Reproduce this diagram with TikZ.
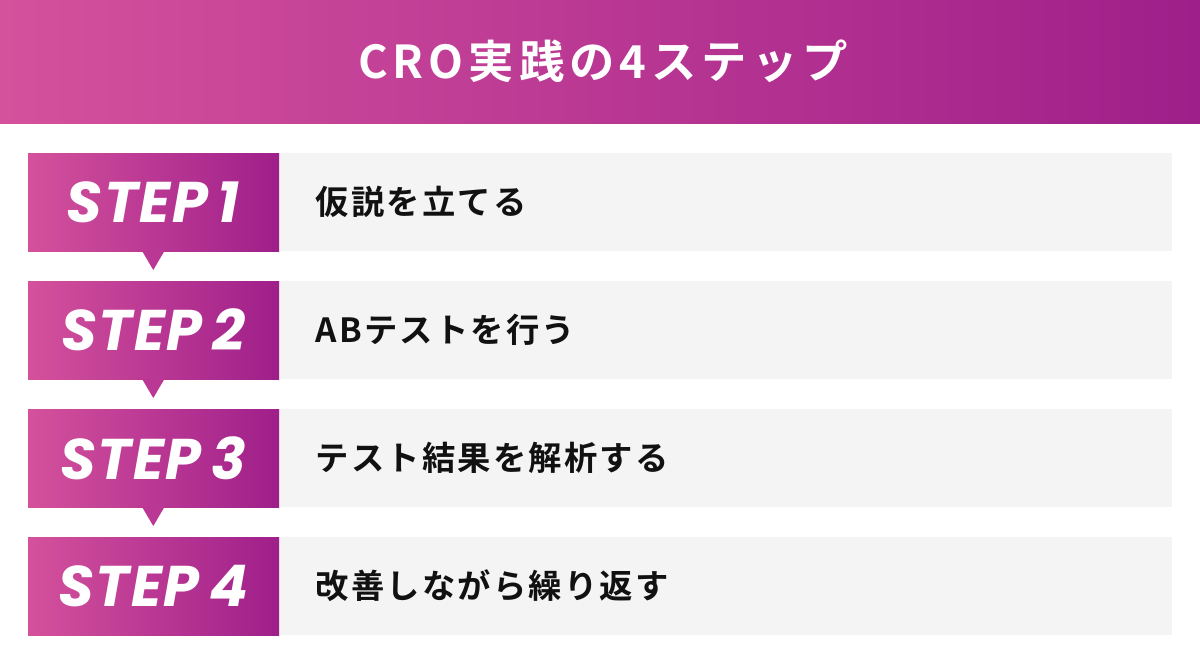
\documentclass[tikz,border=0pt]{standalone}
\usepackage{fontspec}
\newfontfamily\jpfont{Noto Sans CJK JP}[UprightFont=*, BoldFont=* Bold, LetterSpace=6.5]
\newfontfamily\titlefont{Noto Sans CJK JP}[UprightFont=* Bold, LetterSpace=11]
\newfontfamily\stepfont{Poppins}[UprightFont=* Bold Italic, BoldFont=* Bold Italic, LetterSpace=3]
\definecolor{gradL}{HTML}{D4519C}
\definecolor{gradR}{HTML}{9F1F8A}
\definecolor{gradM}{HTML}{BA3893}
\definecolor{rowgray}{HTML}{F4F4F4}
\definecolor{inktext}{HTML}{111111}

\tikzset{every picture/.style={line width=0.75pt}}
\tikzset{
  titletext/.style={text=white, font=\titlefont\fontsize{34}{40}\selectfont},
  steplabel/.style={text=white, font=\stepfont\fontsize{43}{50}\selectfont},
  rowtext/.style={text=inktext, anchor=west, font=\jpfont\bfseries\fontsize{25}{30}\selectfont},
}

\begin{document}
\begin{tikzpicture}[x=0.75pt,y=0.75pt,yscale=-1,xscale=1]
\useasboundingbox (0,0) rectangle (1200,665);

%Header band
\shade [left color=gradL, right color=gradR] (0,0) rectangle (1200,123);
\node [titletext] (title) at (603,61) {CRO実践の4ステップ};

%Rows
\foreach \i/\txt [count=\k] in {0/仮説を立てる, 1/ABテストを行う, 2/テスト結果を解析する, 3/改善しながら繰り返す}{
  \pgfmathsetmacro{\top}{153+128*\i}
  %gray box
  \fill [rowgray] (279,\top) rectangle (1172,\top+98);
  %step box
  \shade [left color=gradL, right color=gradR] (28,\top) rectangle (279,\top+98);
  \node [steplabel] (step\k) at (153,\top+49) {STEP\,\k};
  \node [rowtext] (row\k) at (311,\top+49) {\txt};
}

%pointers under steps 1-3
\foreach \i in {0,1,2}{
  \pgfmathsetmacro{\bot}{251+128*\i}
  \fill [gradM] (141.5,\bot-1) -- (165,\bot-1) -- (153.3,\bot+19) -- cycle;
}

\end{tikzpicture}
\end{document}
